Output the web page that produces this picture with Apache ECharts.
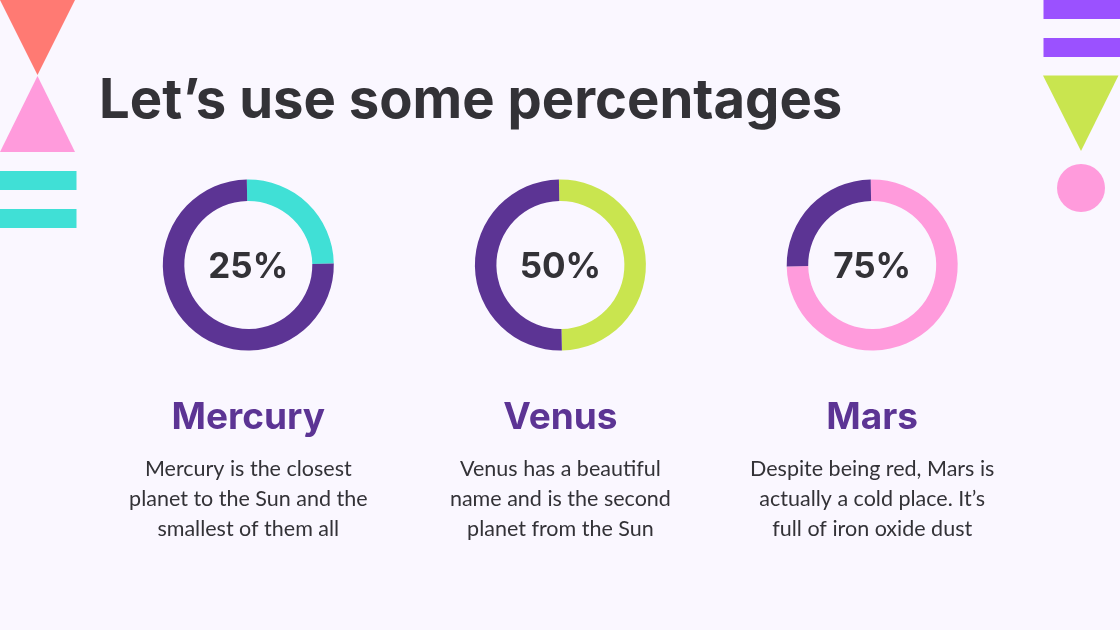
<!DOCTYPE html>
<html lang="en">

<head>
  <meta charset="UTF-8">
  <title>Let's use some percentages</title>
  <script src="https://cdn.jsdelivr.net/npm/echarts@6/dist/echarts.min.js"></script>
  <style>
    html, body { margin: 0; padding: 0; background: #faf7ff; }
    #main { width: 1120px; height: 630px; }
  </style>
</head>

<body>
  <div id="main"></div>
  <script>
    // data
    const slideTitle = 'Let’s use some percentages'
    const planets = ['Mercury', 'Venus', 'Mars']
    const percentages = [25, 50, 75]
    const descriptions = [
      'Mercury is the closest\nplanet to the Sun and the\nsmallest of them all',
      'Venus has a beautiful\nname and is the second\nplanet from the Sun',
      'Despite being red, Mars is\nactually a cold place. It’s\nfull of iron oxide dust'
    ]

    // look
    const purple = '#5c3494'
    const dark = '#333237'
    const accents = ['#40e0d6', '#c9e54f', '#ff9bdc']
    const centerX = [248.3, 560.4, 872.2]

    const myChart = echarts.init(document.querySelector('#main'))

    // one ring per planet, coloured part first, clockwise from just before 12 o'clock
    const series = planets.map((name, i) => ({
      type: 'pie',
      name: name,
      silent: true,
      center: [centerX[i], 265],
      radius: [64, 85.5],
      startAngle: 91,
      clockwise: true,
      animation: false,
      label: { show: false },
      labelLine: { show: false },
      data: [
        { value: percentages[i], name: name, itemStyle: { color: accents[i] } },
        { value: 100 - percentages[i], name: 'rest', itemStyle: { color: purple } }
      ]
    }))

    const triangle = (points, color) => ({
      type: 'polygon',
      shape: { points: points },
      style: { fill: color }
    })
    const rect = (x, y, width, height, color) => ({
      type: 'rect',
      shape: { x, y, width, height },
      style: { fill: color }
    })
    const text = (x, y, str, font, color, align, lineHeight) => ({
      type: 'text',
      x: x,
      y: y,
      style: {
        text: str,
        font: font,
        fill: color,
        align: align,
        verticalAlign: 'middle',
        lineHeight: lineHeight
      }
    })

    const graphic = [
      triangle([[0, 0], [75, 0], [37.5, 75]], '#ff7a73'),
      triangle([[37.5, 76], [75, 152], [0, 152]], '#ff9bdc'),
      rect(0, 171, 76.5, 19, '#40e0d6'),
      rect(0, 209, 76.5, 19, '#40e0d6'),
      rect(1043.5, 0, 76.5, 19, '#9b51ff'),
      rect(1043.5, 38, 76.5, 19, '#9b51ff'),
      triangle([[1043, 75.5], [1118.5, 75.5], [1081, 151]], '#c9e54f'),
      { type: 'circle', shape: { cx: 1081, cy: 188, r: 24 }, style: { fill: '#ff9bdc' } },
      text(99, 102, slideTitle, '700 54.4px Inter', dark, 'left')
    ]
    planets.forEach((name, i) => {
      graphic.push(text(centerX[i], 267, percentages[i] + '%', '700 35px Inter', dark, 'center'))
      graphic.push(text(centerX[i], 417.5, name, '700 37px Inter', purple, 'center'))
      graphic.push(text(centerX[i], 499, descriptions[i], '400 21.5px Lato', dark, 'center', 30))
    })

    myChart.setOption({
      backgroundColor: '#faf7ff',
      animation: false,
      tooltip: { show: false },
      series: series,
      graphic: { elements: graphic }
    })
  </script>
</body>

</html>
